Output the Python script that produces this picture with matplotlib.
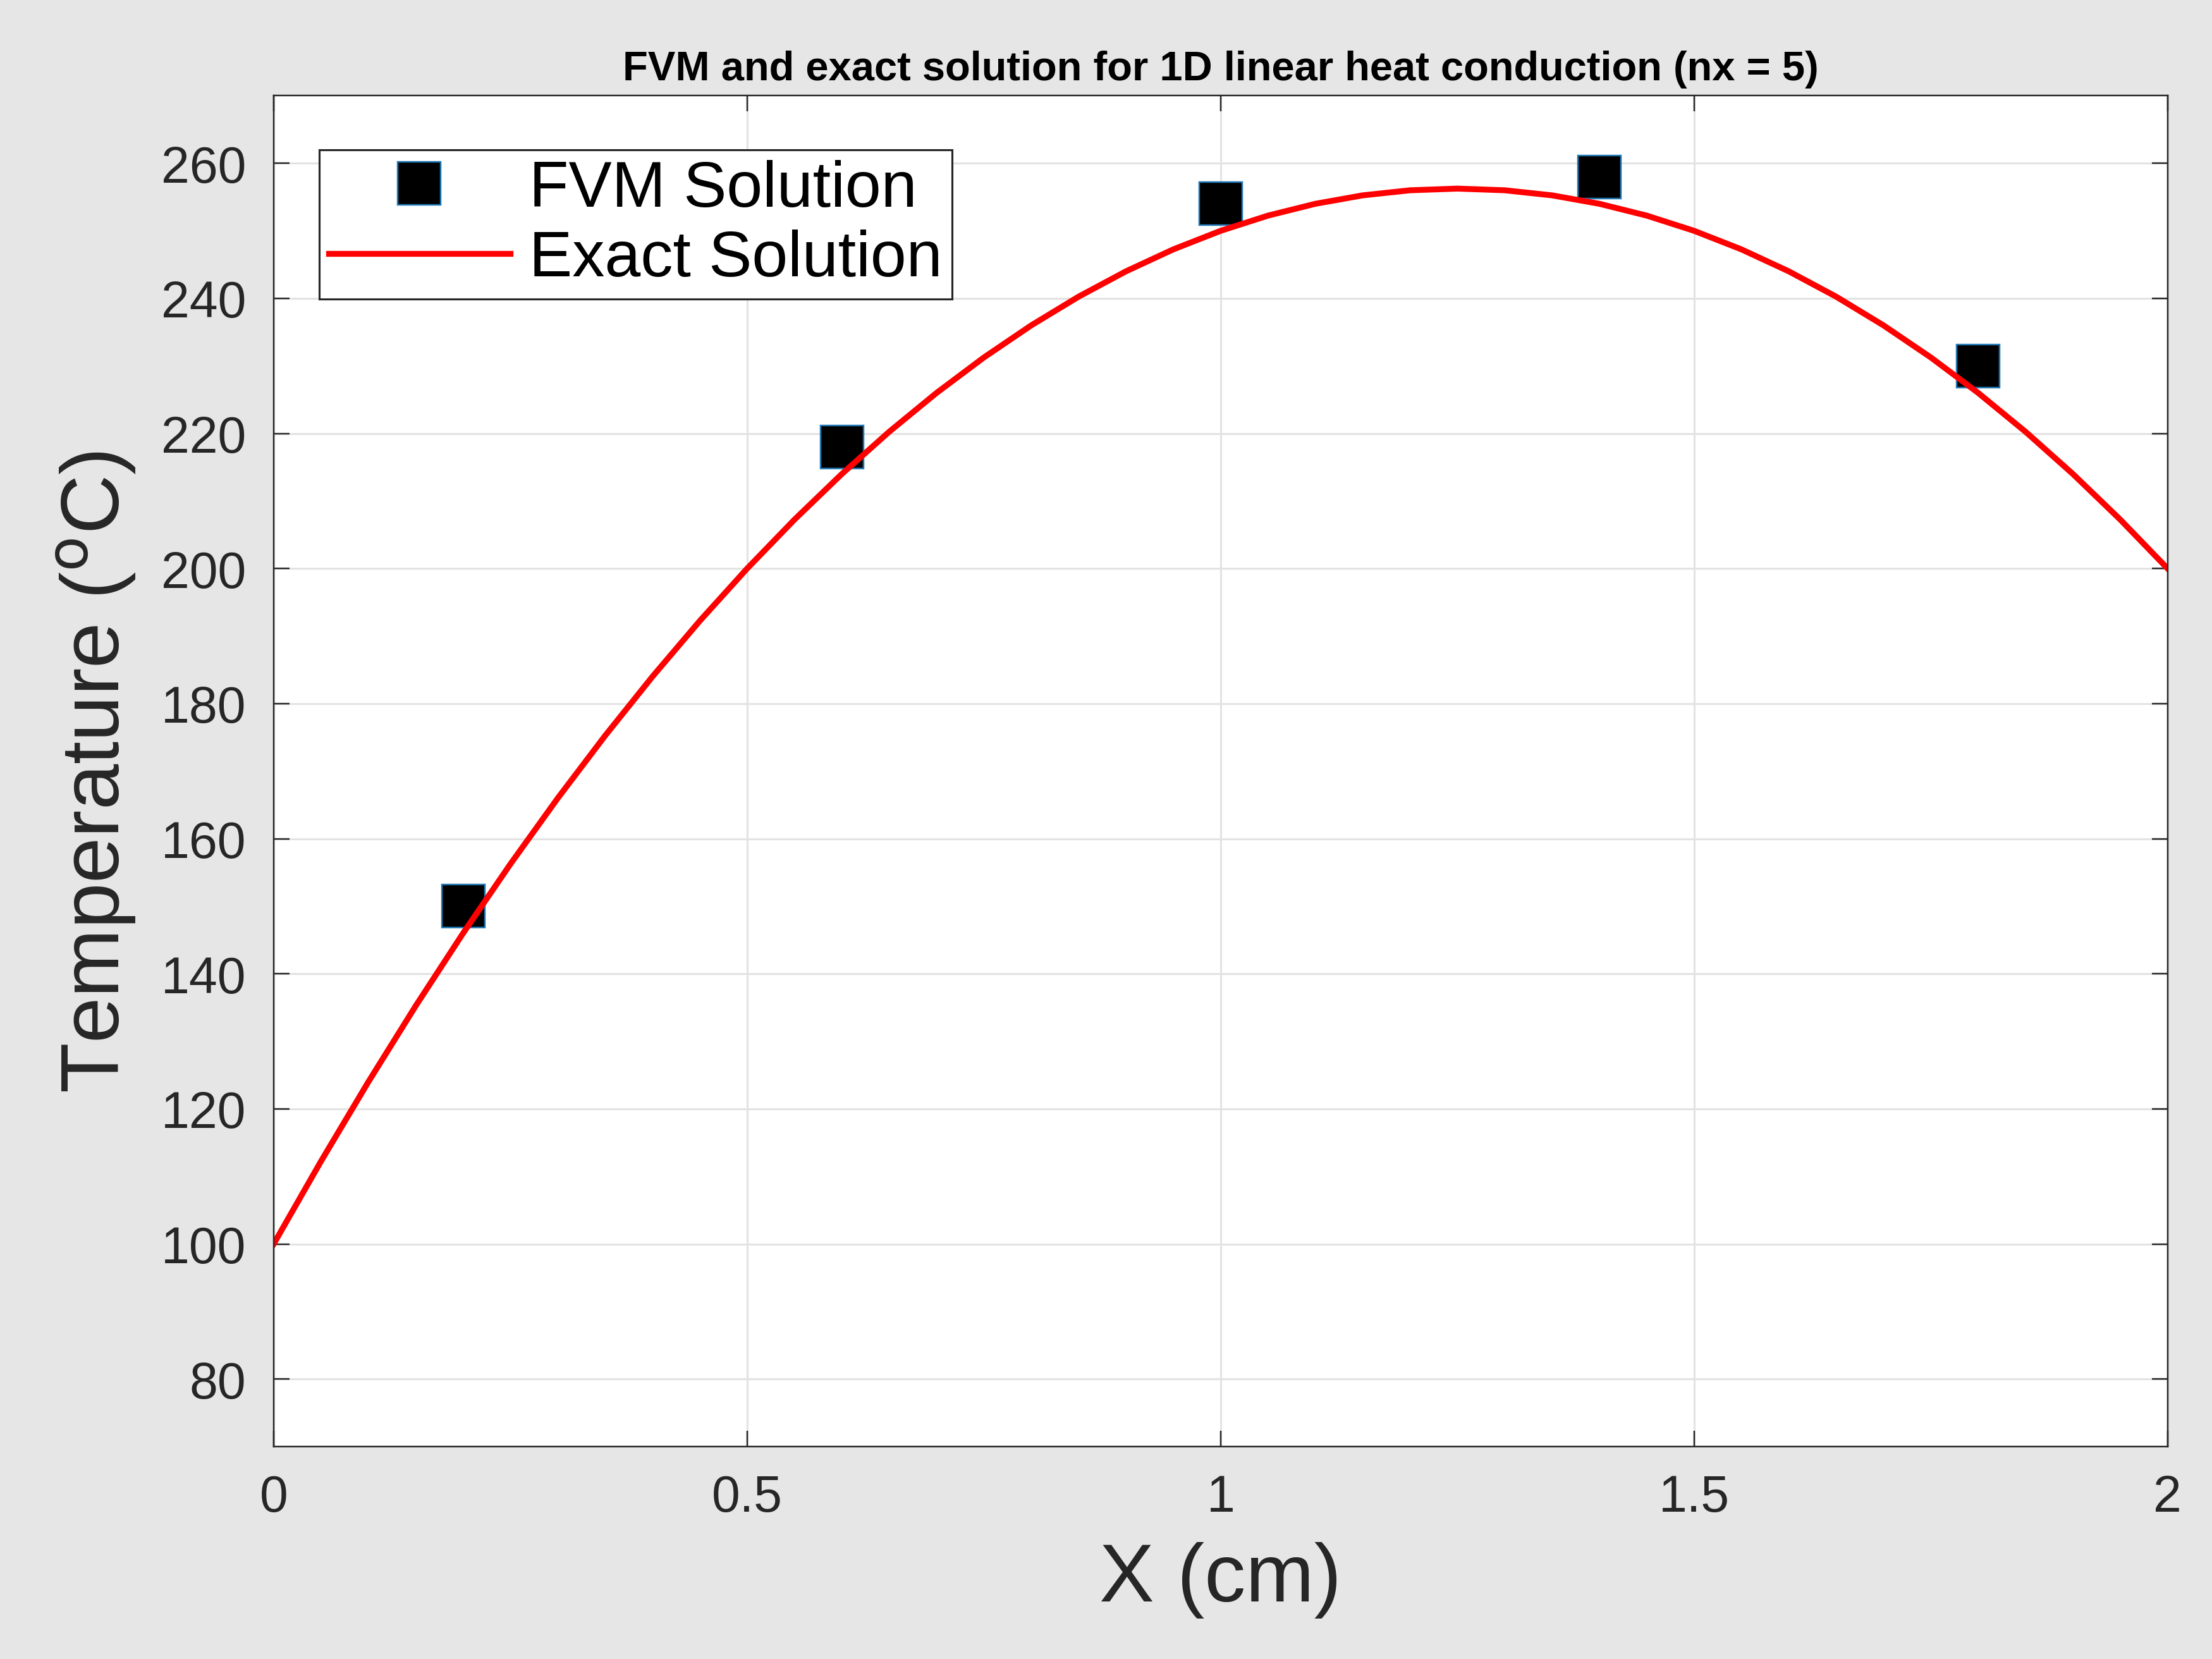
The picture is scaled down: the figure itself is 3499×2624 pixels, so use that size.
import matplotlib
matplotlib.use('Agg')
import matplotlib.pyplot as plt

plt.rcParams['font.family'] = ['Liberation Sans', 'DejaVu Sans']

# FVM cell centres and temperatures
x_fvm = [0.2, 0.6, 1.0, 1.4, 1.8]
t_fvm = [150, 218, 254, 258, 230]

x_exact = [0.0, 0.05, 0.1, 0.15, 0.2, 0.25, 0.3, 0.35, 0.4, 0.45, 0.5,
           0.55, 0.6, 0.65, 0.7, 0.75, 0.8, 0.85, 0.9, 0.95, 1.0,
           1.05, 1.1, 1.15, 1.2, 1.25, 1.3, 1.35, 1.4, 1.45, 1.5,
           1.55, 1.6, 1.65, 1.7, 1.75, 1.8, 1.85, 1.9, 1.95, 2.0]
t_exact = [100, 112.25, 124, 135.25, 146, 156.25, 166, 175.25, 184, 192.25, 200,
           207.25, 214, 220.25, 226, 231.25, 236, 240.25, 244, 247.25, 250,
           252.25, 254, 255.25, 256, 256.25, 256, 255.25, 254, 252.25, 250,
           247.25, 244, 240.25, 236, 231.25, 226, 220.25, 214, 207.25, 200]

fig = plt.figure(figsize=(15.68, 11.76), dpi=223.2, facecolor='#e6e6e6')
ax = fig.add_axes([0.1237, 0.128, 0.856, 0.814])

ax.plot(x_fvm, t_fvm, 's', color='black', markeredgecolor='#1f77b4',
        markeredgewidth=0.8, markersize=22, label='FVM Solution')
ax.plot(x_exact, t_exact, '-', color='red', linewidth=3, label='Exact Solution')

ax.set_xlim(0, 2)
ax.set_ylim(70, 270)
ax.set_xticks([0, 0.5, 1, 1.5, 2])
ax.set_xticklabels(['0', '0.5', '1', '1.5', '2'])
ax.set_yticks(range(80, 261, 20))
ax.grid(True, color='#e3e3e3', linewidth=1)
ax.tick_params(direction='in', top=True, right=True, labelsize=26,
               length=8, colors='#262626', pad=14)
for s in ax.spines.values():
    s.set_color('#262626')

ax.set_xlabel('X (cm)', fontsize=42, color='#262626', labelpad=10)
ax.set_ylabel('Temperature ($^{\\rm o}$C)', fontsize=42, color='#262626', labelpad=12)
ax.set_title('FVM and exact solution for 1D linear heat conduction (nx = 5)',
             fontsize=21, fontweight='bold', pad=8)

leg = ax.legend(loc='upper left', fontsize=33, fancybox=False, framealpha=1,
                edgecolor='#262626', borderpad=0.15, handlelength=2.8,
                handletextpad=0.3, labelspacing=0.15, borderaxespad=0,
                bbox_to_anchor=(0.024, 0.96))
leg.get_frame().set_linewidth(1)

fig.savefig('out.png', dpi=223.2, facecolor=fig.get_facecolor())
